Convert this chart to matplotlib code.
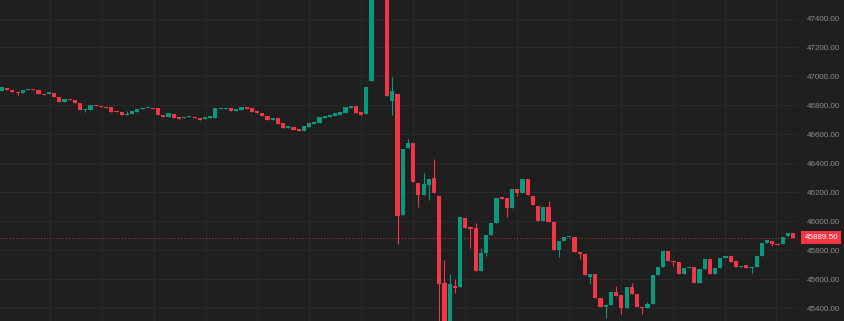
import numpy as np
import matplotlib
matplotlib.use("Agg")
import matplotlib.pyplot as plt
import matplotlib.transforms as mtransforms

# candle open / close prices, oldest first
opens = [
    46902, 46919, 46909, 46891, 46886, 46905, 46912, 46905, 46879, 46877,
    46889, 46859, 46826, 46843, 46838, 46817, 46767, 46769, 46803, 46797,
    46792, 46788, 46762, 46757, 46735, 46739, 46757, 46774, 46781, 46785,
    46785, 46737, 46721, 46743, 46719, 46716, 46721, 46723, 46714, 46705,
    46717, 46716, 46776, 46779, 46781, 46760, 46767, 46788, 46781, 46759,
    46750, 46728, 46702, 46714, 46679, 46647, 46654, 46640, 46626, 46654,
    46674, 46679, 46714, 46719, 46726, 46735, 46750, 46785, 46797, 46753,
    46739, 46969, 47640, 47790, 47700, 46833, 46879, 46045, 46505, 46543,
    46263, 46180, 46252, 46298, 46178, 45573, 45270, 45555, 45550, 46022,
    45960, 45953, 45658, 45784, 45906, 45991, 46171, 46160, 46091, 46224,
    46198, 46291, 46179, 46110, 46003, 46100, 45996, 45800, 45867, 45893,
    45895, 45789, 45775, 45619, 45637, 45474, 45412, 45424, 45511, 45493,
    45401, 45546, 45499, 45412, 45403, 45428, 45631, 45688, 45796, 45729,
    45718, 45635, 45679, 45684, 45577, 45672, 45739, 45635, 45681, 45746,
    45762, 45727, 45688, 45700, 45677, 45688, 45762, 45849, 45867, 45848,
    45844, 45900, 45922,
]
closes = [
    46926, 46909, 46891, 46884, 46905, 46912, 46905, 46879, 46875, 46891,
    46861, 46822, 46845, 46836, 46815, 46769, 46776, 46803, 46795, 46790,
    46783, 46757, 46755, 46735, 46743, 46762, 46776, 46783, 46785, 46778,
    46732, 46723, 46746, 46712, 46707, 46723, 46728, 46714, 46702, 46723,
    46726, 46781, 46785, 46786, 46760, 46774, 46788, 46778, 46755, 46746,
    46728, 46702, 46714, 46674, 46647, 46659, 46631, 46624, 46656, 46677,
    46688, 46723, 46728, 46735, 46746, 46757, 46788, 46799, 46746, 46737,
    46930, 47640, 47790, 47700, 46868, 46902, 46038, 46498, 46543, 46274,
    46180, 46256, 46295, 46194, 45568, 45280, 45566, 45543, 46033, 45953,
    45948, 45658, 45784, 45906, 45991, 46160, 46157, 46091, 46224, 46194,
    46291, 46183, 46111, 46003, 46100, 45996, 45800, 45867, 45893, 45902,
    45789, 45773, 45633, 45635, 45474, 45412, 45424, 45511, 45486, 45401,
    45546, 45499, 45408, 45401, 45428, 45631, 45688, 45796, 45729, 45718,
    45635, 45681, 45688, 45577, 45672, 45739, 45635, 45681, 45746, 45762,
    45722, 45688, 45696, 45677, 45688, 45762, 45849, 45872, 45844, 45841,
    45895, 45922, 45889.5,
]
# visible wicks beyond the body
wick_highs = {24: 46762, 72: 47850, 75: 46997, 78: 46567, 81: 46332, 83: 46429,
              85: 45734, 86: 45637, 87: 45603, 91: 45989, 92: 45817, 105: 46141,
              118: 45555, 121: 45577, 124: 45446}
wick_lows = {3: 46872, 16: 46757, 75: 46735, 76: 45844, 80: 46102, 82: 46148,
             84: 45250, 85: 45220, 86: 45230, 87: 45506, 90: 45817, 93: 45765,
             97: 46033, 99: 46176, 107: 45755, 111: 45741, 113: 45568, 116: 45336,
             119: 45361, 123: 45361, 129: 45693, 144: 45646, 148: 45831}
price_ticks = [45400, 45600, 45800, 46000, 46200, 46400, 46600, 46800, 47000, 47200, 47400]
last_price = 45889.50

UP = "#089981"
DOWN = "#f23645"
BG = "#1f1f1f"
GRID = "#282828"

o = np.array(opens, dtype=float)
c = np.array(closes, dtype=float)
n = len(o)
idx = np.arange(n)
hi = np.maximum(o, c)
lo = np.minimum(o, c)
for k, v in wick_highs.items():
    hi[k] = v
for k, v in wick_lows.items():
    lo[k] = v
cols = np.where(c >= o, UP, DOWN)

fig = plt.figure(figsize=(8.45, 3.21), dpi=100, facecolor=BG)
ax = fig.add_axes([0, 0, 798 / 845, 1])
ax.set_facecolor(BG)

for yv in price_ticks:
    ax.axhline(yv, color=GRID, lw=0.8, zorder=0)
for xv in np.arange(9.2, n, 9.97):
    ax.axvline(xv, color=GRID, lw=0.8, zorder=0)

ax.vlines(idx, lo, hi, colors=cols, lw=0.8, zorder=2)
body = np.maximum(np.abs(c - o), 7)
ax.bar(idx, body, bottom=np.minimum(o, c), width=0.8, color=cols,
       edgecolor="none", zorder=3)

ax.axhline(last_price, color=DOWN, lw=0.7, ls=(0, (1.2, 2)), alpha=0.7, zorder=1)

ax.set_xlim(-0.384, 152.93)
ax.set_ylim(45313.7, 47527.6)
ax.yaxis.tick_right()
ax.set_yticks(price_ticks)
ax.set_yticklabels([f"{t:.2f}" for t in price_ticks])
ax.tick_params(axis="y", length=0, pad=6.2, labelsize=5.8, labelcolor="#8e8e8e")
for lab in ax.get_yticklabels():
    lab.set_fontfamily("Liberation Sans")
ax.set_xticks([])
for s in ax.spines.values():
    s.set_visible(False)

trans = mtransforms.blended_transform_factory(ax.transAxes, ax.transData)
ax.text(1.008, last_price, f"{last_price:.2f}", transform=trans, ha="left", va="center",
        fontsize=5.8, color="white", family="Liberation Sans", clip_on=False,
        bbox=dict(boxstyle="square,pad=0.4", fc=DOWN, ec="none"))

fig.savefig("out.png", dpi=100, facecolor=BG)
